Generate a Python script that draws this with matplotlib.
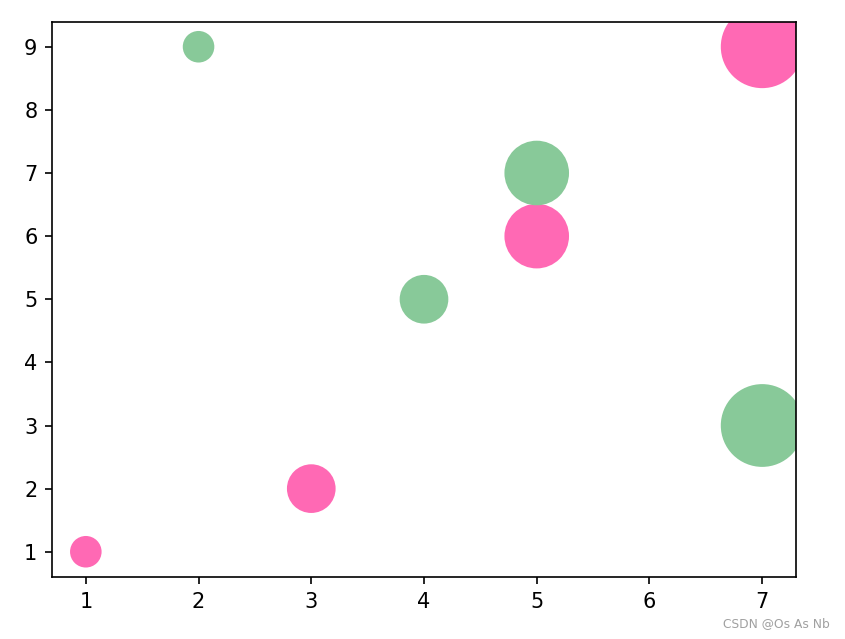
import matplotlib
matplotlib.use('Agg')
import matplotlib.pyplot as plt

# two groups of bubbles
pink_x = [1, 3, 5, 7]
pink_y = [1, 2, 6, 9]
green_x = [2, 4, 5, 7]
green_y = [9, 5, 7, 3]
sizes = [200, 500, 900, 1500]

W, H, DPI = 845, 639, 150
fig = plt.figure(figsize=(W / DPI, H / DPI), dpi=DPI)
ax = fig.add_axes([52 / W, (H - 577) / H, 744 / W, 555.5 / H])

ax.scatter(pink_x, pink_y, s=sizes, color='hotpink')
ax.scatter(green_x, green_y, s=sizes, color='#88c999')

fig.text(830 / W, 1 - 624 / H, 'CSDN @Os As Nb', ha='right', va='center',
         fontsize=5.9, color='#a0a0a0')

fig.savefig('out.png', dpi=DPI)
